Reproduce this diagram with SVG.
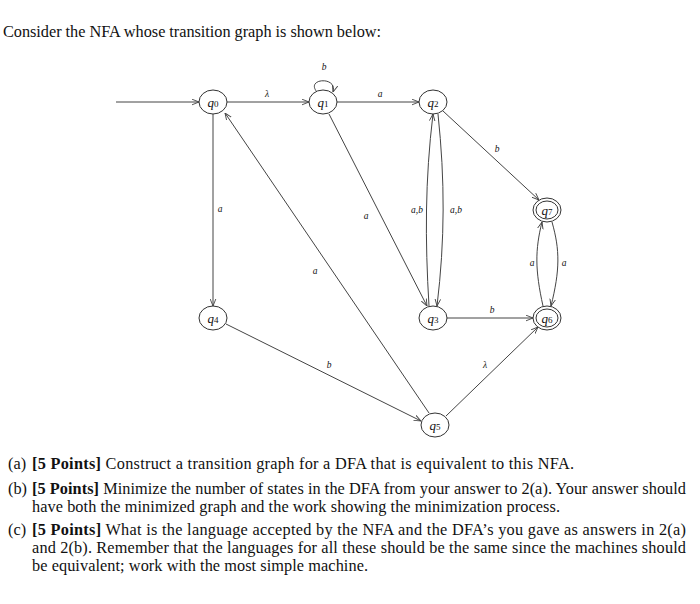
<svg xmlns="http://www.w3.org/2000/svg" width="700" height="604" viewBox="0 0 700 604">
<style>
text{font-family:"Liberation Serif","DejaVu Serif",serif;fill:#111}
.st{fill:#fff;stroke:#333;stroke-width:1}
.nl{font-size:13px;font-style:italic;text-anchor:middle}
.el{font-size:9.5px;font-style:italic;text-anchor:middle}
.e{fill:none;stroke:#444;stroke-width:1;marker-end:url(#ar)}
.t{font-size:16.3px}
</style>
<defs><marker id="ar" viewBox="0 0 10 10" refX="10" refY="5" markerWidth="7" markerHeight="7" orient="auto"><path d="M0,1 L10,5 L0,9" fill="none" stroke="#444" stroke-width="1.3"/></marker></defs>
<rect width="700" height="604" fill="#fff"/>
<text class="t" x="3" y="37" textLength="378">Consider the NFA whose transition graph is shown below:</text>
<g id="connectors">
<path class="e" d="M116,102 H199"/>
<path class="e" d="M227,102 H309"/>
<path class="e" d="M337,102 H419"/>
<path class="e" d="M317,92 C305,78 338,76 333,92"/>
<path class="e" d="M213,114 V306"/>
<path class="e" d="M429,413 L225,113"/>
<path class="e" d="M329,114 L427,306"/>
<path class="e" d="M429,306 C425,240 425,180 433,114"/>
<path class="e" d="M438,114 C445,180 445,240 437,306"/>
<path class="e" d="M443,111 L539,200"/>
<path class="e" d="M543,306 C535,270 535,250 542,222"/>
<path class="e" d="M552,222 C560,250 560,270 551,306"/>
<path class="e" d="M447,318 H533"/>
<path class="e" d="M226,324 L421,421"/>
<path class="e" d="M446,416 L538,327"/>
</g>
<g class="el">
<text x="267" y="97">λ</text><text x="380" y="97">a</text><text x="324" y="70">b</text>
<text x="220" y="212">a</text><text x="315" y="274">a</text><text x="366" y="219">a</text>
<text x="417" y="213">a,b</text><text x="456" y="213">a,b</text><text x="497" y="152">b</text>
<text x="532" y="266">a</text><text x="564" y="266">a</text><text x="492" y="313">b</text>
<text x="329" y="368">b</text><text x="485" y="368">λ</text>
</g>
<g id="q0"><ellipse class="st" cx="213" cy="102" rx="14" ry="12"/><text class="nl" x="213" y="107">q<tspan font-size="9" font-style="normal">0</tspan></text></g>
<g id="q1"><ellipse class="st" cx="323" cy="102" rx="14" ry="12"/><text class="nl" x="323" y="107">q<tspan font-size="9" font-style="normal">1</tspan></text></g>
<g id="q2"><ellipse class="st" cx="433" cy="102" rx="14" ry="12"/><text class="nl" x="433" y="107">q<tspan font-size="9" font-style="normal">2</tspan></text></g>
<g id="q7"><ellipse class="st" cx="547" cy="210" rx="14" ry="12"/><ellipse class="st" cx="547" cy="210" rx="11" ry="9"/><text class="nl" x="547" y="215">q<tspan font-size="9" font-style="normal">7</tspan></text></g>
<g id="q4"><ellipse class="st" cx="213" cy="318" rx="14" ry="12"/><text class="nl" x="213" y="323">q<tspan font-size="9" font-style="normal">4</tspan></text></g>
<g id="q3"><ellipse class="st" cx="433" cy="318" rx="14" ry="12"/><text class="nl" x="433" y="323">q<tspan font-size="9" font-style="normal">3</tspan></text></g>
<g id="q6"><ellipse class="st" cx="547" cy="318" rx="14" ry="12"/><ellipse class="st" cx="547" cy="318" rx="11" ry="9"/><text class="nl" x="547" y="323">q<tspan font-size="9" font-style="normal">6</tspan></text></g>
<g id="q5"><ellipse class="st" cx="435" cy="425" rx="14" ry="12"/><text class="nl" x="435" y="430">q<tspan font-size="9" font-style="normal">5</tspan></text></g>
<g class="t">
<text x="8" y="469">(a)</text><text x="32" y="469" textLength="542"><tspan font-weight="bold">[5 Points]</tspan> Construct a transition graph for a DFA that is equivalent to this NFA.</text>
<text x="8" y="494">(b)</text><text x="32" y="494" textLength="654"><tspan font-weight="bold">[5 Points]</tspan> Minimize the number of states in the DFA from your answer to 2(a). Your answer should</text>
<text x="32" y="512" textLength="528">have both the minimized graph and the work showing the minimization process.</text>
<text x="8" y="535">(c)</text><text x="32" y="535" textLength="654"><tspan font-weight="bold">[5 Points]</tspan> What is the language accepted by the NFA and the DFA’s you gave as answers in 2(a)</text>
<text x="32" y="553" textLength="654">and 2(b). Remember that the languages for all these should be the same since the machines should</text>
<text x="32" y="571" textLength="336">be equivalent; work with the most simple machine.</text>
</g>
</svg>
